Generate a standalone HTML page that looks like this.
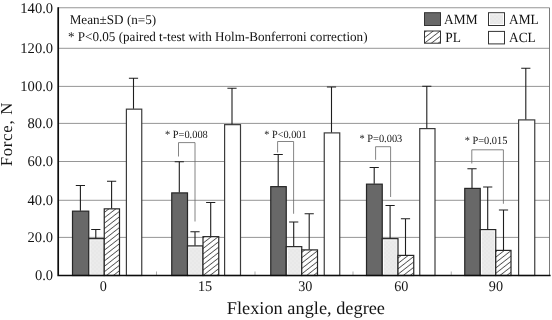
<!DOCTYPE html>
<html lang="en">
<head>
<meta charset="utf-8">
<title>Force vs flexion angle</title>
<style>
html,body{margin:0;padding:0;background:#fff;}
body{width:552px;height:320px;overflow:hidden;}
svg{display:block;}
text{text-rendering:geometricPrecision;font-family:"Liberation Serif","DejaVu Serif",serif;fill:#141414;}
.yl{font-size:14.8px;text-anchor:end;}
.xl{font-size:14.8px;text-anchor:middle;}
.p{font-size:44px;}
.lg{font-size:14px;}
.nt{font-size:13.4px;}
</style>
</head>
<body>
<svg width="552" height="320" viewBox="0 0 552 320">
<defs>
<pattern id="hatch" width="10" height="4.25" patternUnits="userSpaceOnUse" patternTransform="rotate(-38)">
<rect width="10" height="4.25" fill="#fff"/>
<line x1="0" y1="2.1" x2="10" y2="2.1" stroke="#333" stroke-width="0.8"/>
</pattern>
<pattern id="dots" width="4" height="4" patternUnits="userSpaceOnUse">
<rect width="4" height="4" fill="#ebebeb"/>
<rect x="0.5" y="0.5" width="1" height="1" fill="#dfdfdf"/>
<rect x="2.5" y="2.5" width="1" height="1" fill="#dfdfdf"/>
</pattern>
</defs>
<rect width="552" height="320" fill="#fff"/>

<g stroke="#909090" stroke-width="0.95" fill="none">
<line x1="58" y1="7.75" x2="549.5" y2="7.75"/>
<line x1="58" y1="48.3" x2="549.5" y2="48.3"/>
<line x1="58" y1="86.4" x2="549.5" y2="86.4"/>
<line x1="58" y1="123.4" x2="549.5" y2="123.4"/>
<line x1="58" y1="161.5" x2="549.5" y2="161.5"/>
<line x1="58" y1="200.3" x2="549.5" y2="200.3"/>
<line x1="58" y1="237.4" x2="549.5" y2="237.4"/>
<line x1="549.5" y1="7.75" x2="549.5" y2="275.5" stroke="#6a6a6a" stroke-width="0.9"/>
<line x1="156.5" y1="271.5" x2="156.5" y2="275.5" stroke="#aaa"/>
<line x1="255" y1="271.5" x2="255" y2="275.5" stroke="#aaa"/>
<line x1="353" y1="271.5" x2="353" y2="275.5" stroke="#aaa"/>
<line x1="451.25" y1="271.5" x2="451.25" y2="275.5" stroke="#aaa"/>
</g>
<g stroke="#262626" stroke-width="1.2">
<rect x="72.5" y="211.15" width="16.25" height="64.35" fill="#686868"/>
<rect x="88.75" y="238.65" width="15.5" height="36.85" fill="#fff"/>
<rect x="90.35" y="240.25" width="12.7" height="35.25" fill="url(#dots)" stroke="none"/>
<rect x="104.25" y="208.85" width="15.25" height="66.65" fill="url(#hatch)"/>
<rect x="126.4" y="109.15" width="15.35" height="166.35" fill="#ffffff" stroke="#3c3c3c"/>
<rect x="171.75" y="192.9" width="15.75" height="82.6" fill="#686868"/>
<rect x="187.5" y="245.9" width="15.5" height="29.6" fill="#fff"/>
<rect x="189.1" y="247.5" width="12.7" height="28.0" fill="url(#dots)" stroke="none"/>
<rect x="203" y="236.65" width="15.75" height="38.85" fill="url(#hatch)"/>
<rect x="224.6" y="124.65" width="15.9" height="150.85" fill="#ffffff" stroke="#3c3c3c"/>
<rect x="270.75" y="186.65" width="15.5" height="88.85" fill="#686868"/>
<rect x="286.25" y="246.65" width="15.5" height="28.85" fill="#fff"/>
<rect x="287.85" y="248.25" width="12.7" height="27.25" fill="url(#dots)" stroke="none"/>
<rect x="301.75" y="249.9" width="15.75" height="25.6" fill="url(#hatch)"/>
<rect x="324.25" y="132.9" width="15.5" height="142.6" fill="#ffffff" stroke="#3c3c3c"/>
<rect x="366.5" y="184.15" width="15.75" height="91.35" fill="#686868"/>
<rect x="382.25" y="238.65" width="15.75" height="36.85" fill="#fff"/>
<rect x="383.85" y="240.25" width="12.95" height="35.25" fill="url(#dots)" stroke="none"/>
<rect x="398" y="255.4" width="15.75" height="20.1" fill="url(#hatch)"/>
<rect x="419.75" y="128.6" width="15.25" height="146.9" fill="#ffffff" stroke="#3c3c3c"/>
<rect x="464.75" y="188.4" width="15.5" height="87.1" fill="#686868"/>
<rect x="480.25" y="229.6" width="15.5" height="45.9" fill="#fff"/>
<rect x="481.85" y="231.2" width="12.7" height="44.3" fill="url(#dots)" stroke="none"/>
<rect x="495.75" y="250.4" width="15.25" height="25.1" fill="url(#hatch)"/>
<rect x="518.6" y="119.9" width="16.15" height="155.6" fill="#ffffff" stroke="#3c3c3c"/>
</g>
<g stroke="#1e1e1e" stroke-width="1.1" fill="none">
<path d="M80.4 210.75V185.5M75.80000000000001 185.5H85.0"/>
<path d="M95.8 238.25V229.5M91.2 229.5H100.39999999999999"/>
<path d="M111.6 208.45V181.25M107.0 181.25H116.19999999999999"/>
<path d="M133.5 108.75V78.25M128.9 78.25H138.1"/>
<path d="M179.3 192.5V161.75M174.70000000000002 161.75H183.9"/>
<path d="M195 245.5V231.75M190.4 231.75H199.6"/>
<path d="M210.7 236.25V202.5M206.1 202.5H215.29999999999998"/>
<path d="M232 124.25V88.25M227.4 88.25H236.6"/>
<path d="M278.2 186.25V154.5M273.59999999999997 154.5H282.8"/>
<path d="M293.7 246.25V222M289.09999999999997 222H298.3"/>
<path d="M309.2 249.5V213.75M304.59999999999997 213.75H313.8"/>
<path d="M331.5 132.5V87M326.9 87H336.1"/>
<path d="M374.2 183.75V167.5M369.59999999999997 167.5H378.8"/>
<path d="M390.1 238.25V205.5M385.5 205.5H394.70000000000005"/>
<path d="M405.5 255V218.75M400.9 218.75H410.1"/>
<path d="M426.8 128.2V86.25M422.2 86.25H431.40000000000003"/>
<path d="M472 188V168.75M467.4 168.75H476.6"/>
<path d="M487.7 229.2V187M483.09999999999997 187H492.3"/>
<path d="M503.5 250V210M498.9 210H508.1"/>
<path d="M525.8 119.5V68.25M521.1999999999999 68.25H530.4"/>
</g>
<g stroke="#666" stroke-width="0.8" fill="none">
<path d="M178.5 156.5V142.6H195V221.5"/>
<path d="M277.6 152.5V141.5H293.6V213.75"/>
<path d="M375.6 159.8V146.7H390.6V197"/>
<path d="M471.8 163.5V149.8H503.4V203.75"/>
</g>
<path d="M58.2 7.2V275.5H550.6" stroke="#0c0c0c" stroke-width="1.7" fill="none"/>
<text class="yl" transform="translate(53.1 12.9) scale(0.985 1)">140.0</text>
<text class="yl" transform="translate(53.1 52.9) scale(0.985 1)">120.0</text>
<text class="yl" transform="translate(53.1 90.9) scale(0.985 1)">100.0</text>
<text class="yl" transform="translate(53.1 128.1) scale(0.985 1)">80.0</text>
<text class="yl" transform="translate(53.1 166.1) scale(0.985 1)">60.0</text>
<text class="yl" transform="translate(53.1 204.75) scale(0.985 1)">40.0</text>
<text class="yl" transform="translate(53.1 241.75) scale(0.985 1)">20.0</text>
<text class="yl" transform="translate(53.1 279.75) scale(0.985 1)">0.0</text>
<text class="xl" transform="translate(103.25 290.6) scale(0.96 1)">0</text>
<text class="xl" transform="translate(205 290.6) scale(0.96 1)">15</text>
<text class="xl" transform="translate(305.25 290.6) scale(0.96 1)">30</text>
<text class="xl" transform="translate(401.25 290.6) scale(0.96 1)">60</text>
<text class="xl" transform="translate(495.9 290.6) scale(0.96 1)">90</text>
<text class="p" transform="translate(165.0 137.70000000000002) scale(0.25)" textLength="171.2" lengthAdjust="spacingAndGlyphs">* P=0.008</text>
<text class="p" transform="translate(264.3 137.70000000000002) scale(0.25)" textLength="168.8" lengthAdjust="spacingAndGlyphs">* P&lt;0.001</text>
<text class="p" transform="translate(359.5 142.0) scale(0.25)" textLength="171.2" lengthAdjust="spacingAndGlyphs">* P=0.003</text>
<text class="p" transform="translate(464.75 144.1) scale(0.25)" textLength="170.4" lengthAdjust="spacingAndGlyphs">* P=0.015</text>
<text class="nt" x="69.7" y="23.5" textLength="86.5" lengthAdjust="spacingAndGlyphs">Mean±SD (n=5)</text>
<text class="nt" x="68" y="40.6" textLength="299.5" lengthAdjust="spacingAndGlyphs">* P&lt;0.05 (paired t-test with Holm-Bonferroni correction)</text>
<g stroke="#333" stroke-width="1">
<rect x="424.5" y="12.7" width="16" height="12.8" fill="#686868"/>
<rect x="488.5" y="12.7" width="16" height="12.8" fill="#fff"/>
<rect x="490" y="14.3" width="13.1" height="9.7" fill="url(#dots)" stroke="none"/>
<rect x="424.5" y="31.0" width="16" height="12.2" fill="url(#hatch)"/>
<rect x="488.5" y="31.4" width="16" height="12.5" fill="#fff"/>
</g>
<text class="lg" transform="translate(444.1 24.05) scale(0.955 1)">AMM</text>
<text class="lg" transform="translate(509.0 24.05) scale(0.955 1)">AML</text>
<text class="lg" transform="translate(445.2 41.85) scale(0.955 1)">PL</text>
<text class="lg" transform="translate(509.0 41.85) scale(0.955 1)">ACL</text>
<text x="226.8" y="313.7" font-size="18" textLength="158.2" lengthAdjust="spacingAndGlyphs">Flexion angle, degree</text>
<text transform="translate(12.1 166.3) rotate(-90)" font-size="16.8" textLength="63.6" lengthAdjust="spacing">Force, N</text>
</svg>
</body>
</html>
